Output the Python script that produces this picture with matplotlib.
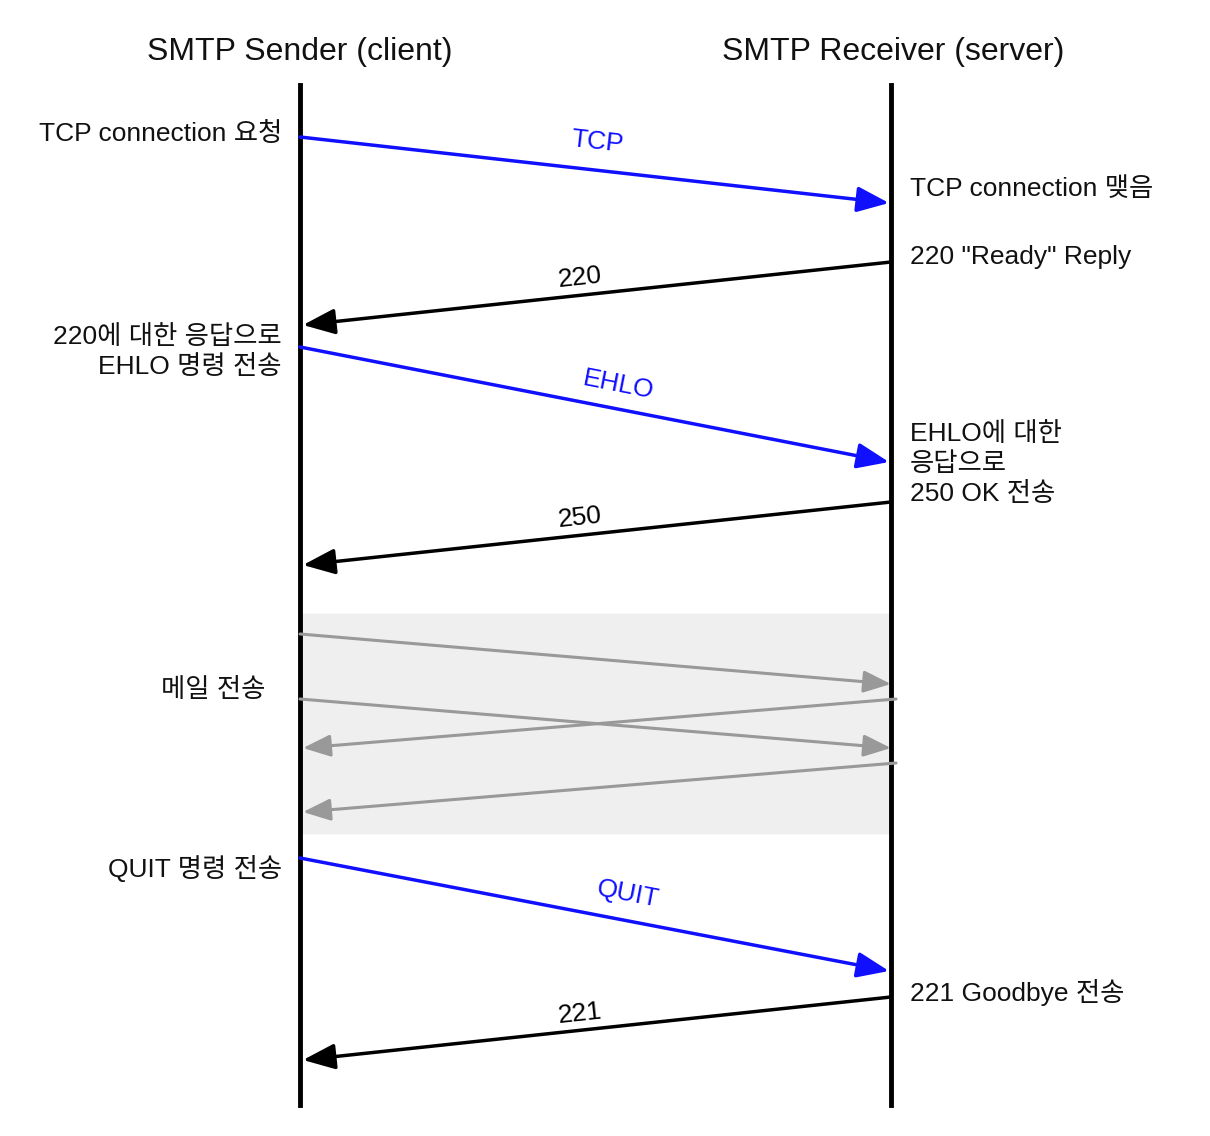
import math
import matplotlib
matplotlib.use("Agg")
import matplotlib.pyplot as plt
from matplotlib.patches import Rectangle

plt.rcParams['font.family'] = ['Liberation Sans', 'Noto Sans CJK KR', 'DejaVu Sans']

W, H = 1210, 1136
left_x, right_x = 300, 891

titles = ["SMTP Sender (client)", "SMTP Receiver (server)"]
msg_labels = ["TCP", "220", "EHLO", "250", "QUIT", "221"]
msg_colors = ["#1010ff", "black", "#1010ff", "black", "#1010ff", "black"]
msg_start_y = [137, 262, 347, 502, 858, 997]
msg_end_y = [203, 325, 462, 565, 971, 1060]
msg_dir = ["r", "l", "r", "l", "r", "l"]
label_pos = [(597, 142), (580, 278), (618, 385), (580, 518), (628, 894), (580, 1014)]

gray_start = [(300, 634), (896, 699), (300, 699), (896, 763)]
gray_end = [(891, 684), (303, 748), (891, 748), (303, 812)]

left_notes = [("TCP connection 요청", 282, 134), ("220에 대한 응답으로\nEHLO 명령 전송", 282, 352),
              ("메일 전송", 265, 690), ("QUIT 명령 전송", 282, 868)]
right_notes = [("TCP connection 맺음", 910, 189), ("220 \"Ready\" Reply", 910, 257),
               ("EHLO에 대한\n응답으로\n250 OK 전송", 910, 464), ("221 Goodbye 전송", 910, 992)]

fig = plt.figure(figsize=(W / 100, H / 100), dpi=100)
ax = fig.add_axes([0, 0, 1, 1])
ax.set_xlim(0, W)
ax.set_ylim(H, 0)
ax.axis('off')

ax.add_patch(Rectangle((left_x, 614), right_x - left_x, 219, color="#efefef", zorder=0))
for x in (left_x, right_x):
    ax.plot([x, x], [85, 1105], color="black", lw=3.5, zorder=3)
ax.text(left_x, 52, titles[0], ha="center", va="center", fontsize=23, color="#111111")
ax.text(right_x + 2, 52, titles[1], ha="center", va="center", fontsize=23, color="#111111")

def arrow(x0, y0, x1, y1, color, lw=2.5, ms=28):
    ax.annotate("", xy=(x1, y1), xytext=(x0, y0),
                arrowprops=dict(arrowstyle="-|>,head_length=0.7,head_width=0.28", color=color, lw=lw,
                                mutation_scale=ms, shrinkA=0, shrinkB=0), zorder=4)

for lab, c, sy, ey, d, (lx, ly) in zip(msg_labels, msg_colors, msg_start_y, msg_end_y, msg_dir, label_pos):
    if d == "r":
        x0, x1 = left_x, right_x - 2
    else:
        x0, x1 = right_x, left_x + 3
    arrow(x0, sy, x1, ey, c)
    ang = math.degrees(math.atan2(ey - sy, abs(x1 - x0)))
    ang = -ang if d == "r" else ang
    ax.text(lx, ly, lab, color=c, rotation=ang, ha="center", va="center", fontsize=19, rotation_mode="anchor")

for (x0, y0), (x1, y1) in zip(gray_start, gray_end):
    arrow(x0, y0, x1, y1, "#999999", lw=2.2, ms=24)

for t, x, y in left_notes:
    ax.text(x, y, t, ha="right", va="center", fontsize=19, linespacing=1.3, color="#111111")
for t, x, y in right_notes:
    ax.text(x, y, t, ha="left", va="center", fontsize=19, linespacing=1.3, color="#111111")

fig.savefig("out.png", dpi=100, facecolor="white")
